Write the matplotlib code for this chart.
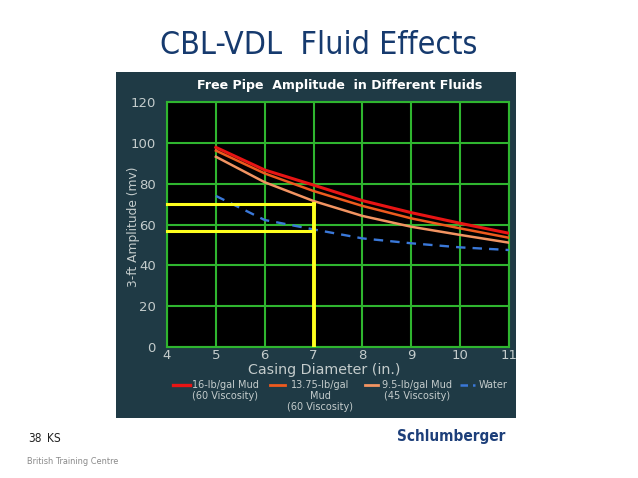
import matplotlib
matplotlib.use("Agg")
import matplotlib.pyplot as plt
from matplotlib.patches import Rectangle
from matplotlib.lines import Line2D

# ---- data ----
diameters = [5, 6, 7, 8, 9, 10, 11]
mud_16 = [97.8, 86.7, 79.3, 71.7, 65.8, 60.6, 55.7]
mud_1375 = [96.2, 85.0, 76.4, 69.1, 63.0, 58.1, 53.5]
mud_95 = [93.2, 80.7, 71.5, 64.2, 58.9, 54.9, 51.1]
water = [74.0, 62.2, 57.6, 53.2, 50.8, 48.8, 47.5]

series_labels = ["16-lb/gal Mud\n(60 Viscosity)",
                 "13.75-lb/gal\nMud\n(60 Viscosity)",
                 "9.5-lb/gal Mud\n(45 Viscosity)",
                 "Water"]
x_ticks = [4, 5, 6, 7, 8, 9, 10, 11]
y_ticks = [0, 20, 40, 60, 80, 100, 120]

# example reading (yellow guide lines)
example_diam = 7
example_mud = 70
example_water = 56.7

W, H = 638, 478
fig = plt.figure(figsize=(W / 100, H / 100), dpi=100)
fig.patch.set_facecolor("white")

def fx(px):
    return px / W

def fy(py):
    return 1 - py / H

# dark panel behind the chart
panel = Rectangle((fx(116), fy(418)), fx(516) - fx(116), fy(72) - fy(418),
                  transform=fig.transFigure, facecolor="#1f3a45",
                  edgecolor="none", zorder=-5)
fig.patches.append(panel)

ax = fig.add_axes([fx(167), fy(347), fx(509) - fx(167), fy(102) - fy(347)])
ax.set_zorder(2)
ax.set_facecolor("black")
grid_c = "#2fb52f"
for s in ax.spines.values():
    s.set_color(grid_c)
    s.set_linewidth(1.5)
ax.set_xlim(4, 11)
ax.set_ylim(0, 120)
ax.set_xticks(x_ticks)
ax.set_yticks(y_ticks)
ax.grid(True, color=grid_c, linewidth=1.5)
ax.set_axisbelow(True)
lab_c = "#c4cccc"
ax.tick_params(length=0, labelcolor=lab_c, labelsize=9.5)
ax.tick_params(axis="y", pad=8)
ax.tick_params(axis="x", pad=1.5)

c16, c1375, c95, cw = "#e81414", "#ee5a1e", "#f29462", "#3a78d8"
ax.plot(diameters, mud_16, color=c16, lw=2.2, zorder=4)
ax.plot(diameters, mud_1375, color=c1375, lw=1.8, zorder=4)
ax.plot(diameters, mud_95, color=c95, lw=1.8, zorder=4)
ax.plot(diameters, water, color=cw, lw=1.7, dashes=(4, 3), zorder=4)

yc = "#ffff1e"
ax.plot([4, example_diam], [example_mud, example_mud], color=yc, lw=2.2, zorder=5, clip_on=False)
ax.plot([4, example_diam], [example_water, example_water], color=yc, lw=2.2, zorder=5, clip_on=False)
ax.plot([example_diam, example_diam], [0, example_mud], color=yc, lw=2.8, zorder=5)

ax.set_ylabel("3-ft Amplitude (mv)", color=lab_c, fontsize=8.8)
ax.yaxis.set_label_coords((134 - 167) / 342, (347 - 227) / 245)
ax.set_xlabel("Casing Diameter (in.)", color=lab_c, fontsize=10.3)
ax.xaxis.set_label_coords((324 - 167) / 342, (347 - 370) / 245)
ax.xaxis.label.set_va("center")
ax.yaxis.label.set_va("center")

ax.text((340 - 167) / 342, (347 - 85) / 245, "Free Pipe  Amplitude  in Different Fluids",
        transform=ax.transAxes, ha="center", va="center", color="white",
        fontsize=9.1, fontweight="bold")

# legend (manual, centered multi-line labels)
leg_items = [
    (c16, 2.4, None, 173, 190, 225, 385),
    (c1375, 2.0, None, 270, 285, 320, 385),
    (c95, 2.0, None, 365, 378, 417, 385),
    (cw, 1.8, (3, 2), 460, 475, 493, 385),
]
for (col, lw, dsh, x0, x1, tx, ty), lbl in zip(leg_items, series_labels):
    ln = Line2D([fx(x0), fx(x1)], [fy(ty), fy(ty)], transform=fig.transFigure,
                color=col, lw=lw, zorder=3)
    if dsh:
        ln.set_dashes(dsh)
    fig.add_artist(ln)
    t = fig.text(fx(tx), fy(ty - 5), lbl, ha="center", va="top", color=lab_c,
                 fontsize=7, multialignment="center", linespacing=1.1)
    t.set_zorder(3)

# slide texts
cond = dict(family="DejaVu Sans", fontstretch="condensed")
fig.text(fx(319), fy(46), "CBL-VDL  Fluid Effects", ha="center", va="center",
         color="#163a6e", fontsize=23, **cond)
fig.text(fx(28), fy(438), "38", ha="left", va="center", color="#222222",
         fontsize=8.5, **cond)
fig.text(fx(47), fy(438), "KS", ha="left", va="center", color="#222222",
         fontsize=8.5, **cond)
fig.text(fx(27), fy(462), "British Training Centre", ha="left", va="center",
         color="#8a8a8a", fontsize=6.6, **cond)
fig.text(fx(451), fy(437), "Schlumberger", ha="center", va="center",
         color="#1d3f7a", fontsize=11, fontweight="bold", **cond)

fig.savefig("out.png", dpi=100, facecolor="white")
